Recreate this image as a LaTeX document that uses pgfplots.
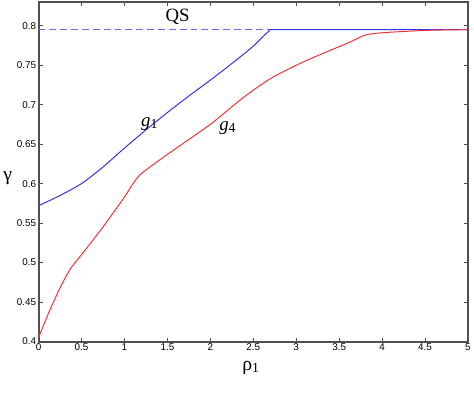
\documentclass[border=0pt]{standalone}
\usepackage{fontspec}
\setmainfont{Liberation Serif}
\newfontfamily\ticks{Liberation Sans}
\usepackage{pgfplots}
\pgfplotsset{compat=1.18}

\definecolor{gone}{RGB}{50,50,230}
\definecolor{gfour}{RGB}{240,50,55}
\definecolor{qsline}{RGB}{105,105,235}
\definecolor{frame}{RGB}{80,80,80}

\begin{document}
\begin{tikzpicture}
\begin{axis}[
  scale only axis, width=435pt, height=344pt,
  xmin=0, xmax=5, ymin=0.4, ymax=0.83,
  xtick={0,0.5,...,5}, ytick={0.4,0.45,...,0.8},
  xticklabels={0,0.5,1,1.5,2,2.5,3,3.5,4,4.5,5},
  yticklabels={0.4,0.45,0.5,0.55,0.6,0.65,0.7,0.75,0.8},
  tick align=inside, major tick length=4pt,
  axis line style={frame, line width=2pt},
  tick style={frame, line width=1pt},
  ticklabel style={font=\ticks\fontsize{10}{11}\selectfont},
  /pgf/number format/assume math mode=true,
  xticklabel style={yshift=1pt},
  yticklabel style={xshift=1pt},
  clip=false,
]
\addplot[qsline, dash pattern=on 7pt off 4pt, line width=1.2pt] coordinates {(0,0.795) (5,0.795)};
\addplot[gone, line width=1pt, smooth, tension=0.4] coordinates {
  (0,0.572) (0.25,0.585) (0.5,0.600) (0.75,0.621) (1,0.645) (1.25,0.668)
  (1.5,0.690) (1.75,0.711) (2,0.731) (2.25,0.752) (2.5,0.774) (2.62,0.787)};
\addplot[gone, line width=1pt] coordinates {(2.62,0.787) (2.70,0.795) (5,0.795)};
\addplot[gfour, line width=1pt, smooth, tension=0.4] coordinates {
  (0,0.405) (0.12,0.437) (0.25,0.468) (0.37,0.492) (0.5,0.510) (0.75,0.545)
  (1,0.583) (1.1,0.600) (1.2,0.613) (1.5,0.637) (2,0.675) (2.36,0.707)
  (2.7,0.733) (3.1,0.755) (3.6,0.778) (3.8,0.788) (4.0,0.791) (4.5,0.794)
  (5,0.795)};
\node[font=\fontsize{19}{20}\selectfont] at (axis cs:1.62,0.811) {QS};
\node[font=\fontsize{19}{20}\selectfont] at (axis cs:1.29,0.675) {\textit{g}\raisebox{-0.2ex}{\fontsize{14}{15}\selectfont 1}};
\node[font=\fontsize{19}{20}\selectfont] at (axis cs:2.2,0.670) {\textit{g}\raisebox{-0.2ex}{\fontsize{14}{15}\selectfont 4}};
\node[font=\fontsize{20}{21}\selectfont] at (axis cs:-0.36,0.607) {γ};
\node[font=\fontsize{20}{21}\selectfont] at (axis cs:2.47,0.367) {ρ\raisebox{-0.25ex}{\fontsize{14}{15}\selectfont 1}};
\end{axis}
\path (current axis.south west) ++(-35pt,-56pt) rectangle ++(474pt,402pt);
\end{tikzpicture}
\end{document}
